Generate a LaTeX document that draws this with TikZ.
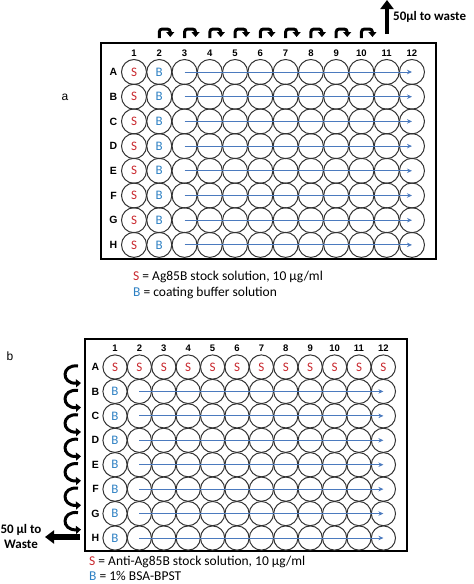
\documentclass[tikz,border=0pt]{standalone}
\usepackage{fontspec}
\setmainfont{Carlito}
\newfontfamily\arialfont{Liberation Sans}
\usetikzlibrary{arrows.meta}
\definecolor{sred}{RGB}{200,38,44}
\definecolor{bblue}{RGB}{45,128,195}
\definecolor{flow}{RGB}{75,122,190}

\tikzset{
  well/.style={circle, draw=black!80, line width=1pt, minimum size=#1, inner sep=0pt},
  collabel/.style={font=\arialfont\bfseries\fontsize{9.5}{9.5}\selectfont},
  rowlabel/.style={font=\arialfont\bfseries\fontsize{10.5}{10.5}\selectfont},
  welltext/.style={font=\fontsize{13}{13}\selectfont, inner sep=0pt},
  legend/.style={font=\fontsize{13.5}{16}\selectfont, anchor=west, inner sep=0pt},
  flowarrow/.style={draw=flow, line width=1pt, -{Stealth[length=5pt,width=4.5pt]}},
  hook/.style={line width=3pt, rounded corners=3pt, -{Triangle[length=5pt,width=8pt]}},
  bigarrow/.style={line width=#1, -{Triangle[length=9pt,width=13pt]}},
  wastelabel/.style={font=\bfseries\fontsize{13}{15}\selectfont, inner sep=0pt},
}

\begin{document}
\begin{tikzpicture}[x=1pt, y=-1pt]
  \useasboundingbox (0,0) rectangle (474,584);

  % plate a
  \node[font=\arialfont\fontsize{12}{12}\selectfont] (a-tag) at (65,97) {a};
  \draw[line width=1.3pt] (101,43) rectangle (436,259);
  \foreach \c in {1,...,12}
    \node[collabel] (a-n\c) at ({134+25.27*(\c-1)},53) {\c};
  \foreach \r [count=\i from 0] in {A,B,C,D,E,F,G,H} {
    \node[rowlabel] (a-\r) at (113.5,{72+24.7*\i}) {\r};
    \foreach \c in {1,...,12}
      \node[well=25pt] (a-\r-\c) at ({134+25.27*(\c-1)},{72+24.7*\i}) {};
    \node[welltext, text=sred] (a-s\r) at (a-\r-1) {S};
    \node[welltext, text=bblue] (a-b\r) at (a-\r-2) {B};
    \draw[flowarrow] (a-\r-3.center) -- (a-\r-12.center);
  }
  \foreach \c in {2,...,10} {
    \coordinate (a-hs\c) at ({134+25.27*(\c-1)},38);
    \coordinate (a-he\c) at ({145+25.27*(\c-1)},37);
    \draw[hook] (a-hs\c) -- ++(0,-9) -| (a-he\c);
  }
  \coordinate (a-out) at (387,34);
  \coordinate (a-outend) at (387,0);
  \draw[bigarrow=3.5pt] (a-out) -- (a-outend);
  \node[wastelabel, anchor=west] (a-waste) at (393,17) {50µl to waste};

  \node[legend] (a-key1) at (133,277) {\textcolor{sred}{S} = Ag85B stock solution, 10 µg/ml};
  \node[legend] (a-key2) at (133,293) {\textcolor{bblue}{B} = coating buffer solution};

  % plate b
  \node[font=\arialfont\fontsize{12}{12}\selectfont] (b-tag) at (10,356) {b};
  \draw[line width=1.3pt] (85,339) rectangle (407,551);
  \foreach \c in {1,...,12}
    \node[collabel] (b-n\c) at ({115+24.4*(\c-1)},348) {\c};
  \foreach \r [count=\i from 0] in {A,B,C,D,E,F,G,H} {
    \node[rowlabel] (b-\r) at (95.5,{367+24.43*\i}) {\r};
    \foreach \c in {1,...,12}
      \node[well=24.2pt] (b-\r-\c) at ({115+24.4*(\c-1)},{367+24.43*\i}) {};
  }
  \foreach \c in {1,...,12}
    \node[welltext, text=sred] (b-s\c) at (b-A-\c) {S};
  \foreach \r in {B,C,D,E,F,G,H} {
    \node[welltext, text=bblue] (b-b\r) at (b-\r-1) {B};
    \draw[flowarrow] (b-\r-2.center) -- (b-\r-12.center);
  }
  \foreach \i in {0,...,6} {
    \coordinate (b-hs\i) at (78,{366+24.43*\i});
    \coordinate (b-he\i) at (81,{383+24.43*\i});
    \draw[hook] (b-hs\i) .. controls (61,{364+24.43*\i}) and (61,{384+24.43*\i}) .. (b-he\i);
  }
  \coordinate (b-out) at (80,537);
  \coordinate (b-outend) at (45,537);
  \draw[bigarrow=5.5pt] (b-out) -- (b-outend);
  \node[wastelabel, align=center] (b-waste) at (21,536) {50 µl to\\Waste};

  \node[legend] (b-key1) at (89,562) {\textcolor{sred}{S} = Anti-Ag85B stock solution, 10 µg/ml};
  \node[legend] (b-key2) at (89,576) {\textcolor{bblue}{B} = 1\% BSA-BPST};
\end{tikzpicture}
\end{document}
